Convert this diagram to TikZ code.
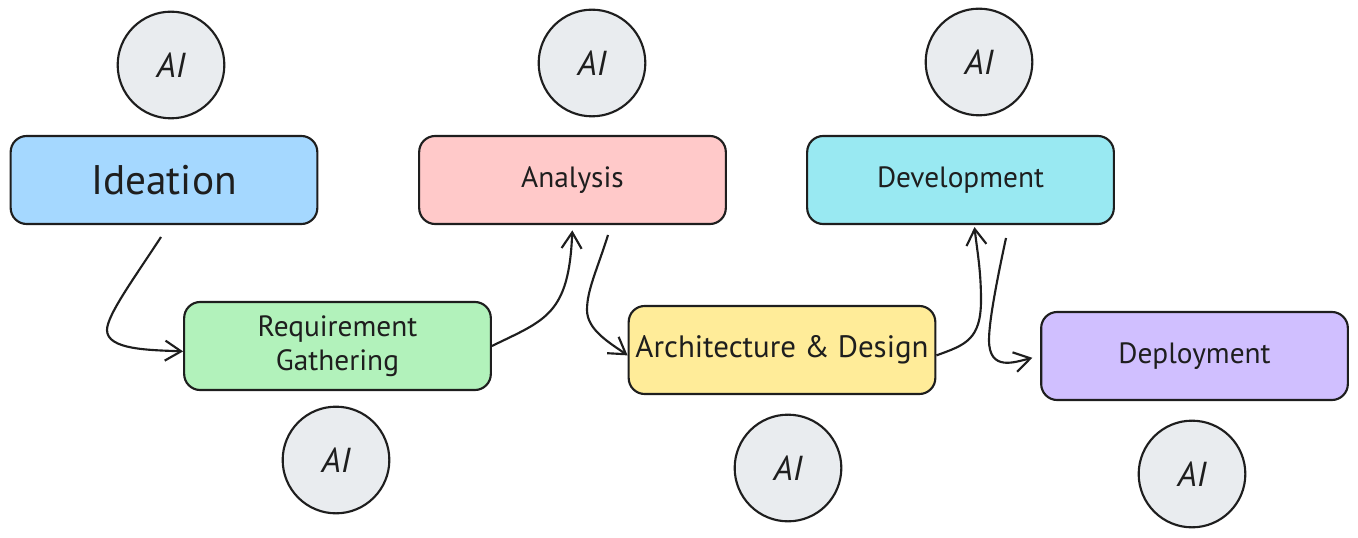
\documentclass[tikz,border=0pt]{standalone}
\usepackage{fontspec}
\setmainfont{PT Sans}
\usetikzlibrary{arrows.meta}
\definecolor{inkline}{HTML}{1E1E1E}
\definecolor{ideablue}{HTML}{A5D8FF}
\definecolor{reqgreen}{HTML}{B2F2BB}
\definecolor{analysispink}{HTML}{FFC9C9}
\definecolor{archyellow}{HTML}{FFEC99}
\definecolor{devcyan}{HTML}{99E9F2}
\definecolor{deploypurple}{HTML}{D0BFFF}
\definecolor{aigrey}{HTML}{E9ECEF}
\tikzset{
  phase/.style={draw=inkline, line width=1.6pt, rounded corners=12pt, inner sep=0pt,
    minimum width=230pt, minimum height=66pt, align=center, text=inkline,
    font=\fontsize{22}{25.5}\selectfont},
  aibubble/.style={circle, draw=inkline, fill=aigrey, line width=1.6pt, inner sep=0pt,
    minimum size=80pt, text=inkline, font=\fontsize{26}{30}\selectfont\itshape},
  flow/.style={draw=inkline, line width=1.6pt, -{Straight Barb[length=12pt,width=15pt]}}
}

\begin{document}
\begin{tikzpicture}[x=0.75pt,y=-0.75pt]
        \useasboundingbox (0,0) rectangle (1358,538);

        % phases
        \node[phase, fill=ideablue, font=\fontsize{31}{34}\selectfont] (ideation) at (164,180) {Ideation};
        \node[phase, fill=reqgreen] (reqs) at (337.5,346) {Requirement\\Gathering};
        \node[phase, fill=analysispink] (analysis) at (572.5,180) {Analysis};
        \node[phase, fill=archyellow, font=\fontsize{23.2}{26}\selectfont] (arch) at (782,350) {Architecture \& Design};
        \node[phase, fill=devcyan] (dev) at (960.5,180) {Development};
        \node[phase, fill=deploypurple] (deploy) at (1194.5,356) {Deployment};

        % AI bubbles
        \node[aibubble] (aiideation) at (171,65) {AI};
        \node[aibubble] (aireqs) at (336,460) {AI};
        \node[aibubble] (aianalysis) at (592,63) {AI};
        \node[aibubble] (aiarch) at (788,468) {AI};
        \node[aibubble] (aidev) at (979,62) {AI};
        \node[aibubble] (aideploy) at (1192,474) {AI};

        % free starts of the arrows
        \coordinate (ideationout) at (161,237);
        \coordinate (analysisout) at (608,235);
        \coordinate (devout) at (1006,238);

        \draw[flow] (ideationout) .. controls (135,277) and (107,315) .. (107,330)
          .. controls (107,350) and (150,350) .. (reqs.182);
        \draw[flow, shorten >=4pt] (reqs.east) .. controls (545,320) and (569,315) .. (analysis.south);
        \draw[flow] (analysisout) .. controls (597,270) and (587,290) .. (587,310)
          .. controls (587,330) and (610,343) .. (arch.182);
        \draw[flow, shorten >=1.5pt] (arch.-2) .. controls (965,345) and (981,340) .. (981,300)
          .. controls (981,270) and (977,250) .. (dev.-73);
        \draw[flow, shorten >=6pt] (devout) .. controls (998,275) and (989,320) .. (989,340)
          .. controls (989,372) and (1015,362) .. (deploy.180);
\end{tikzpicture}
\end{document}
